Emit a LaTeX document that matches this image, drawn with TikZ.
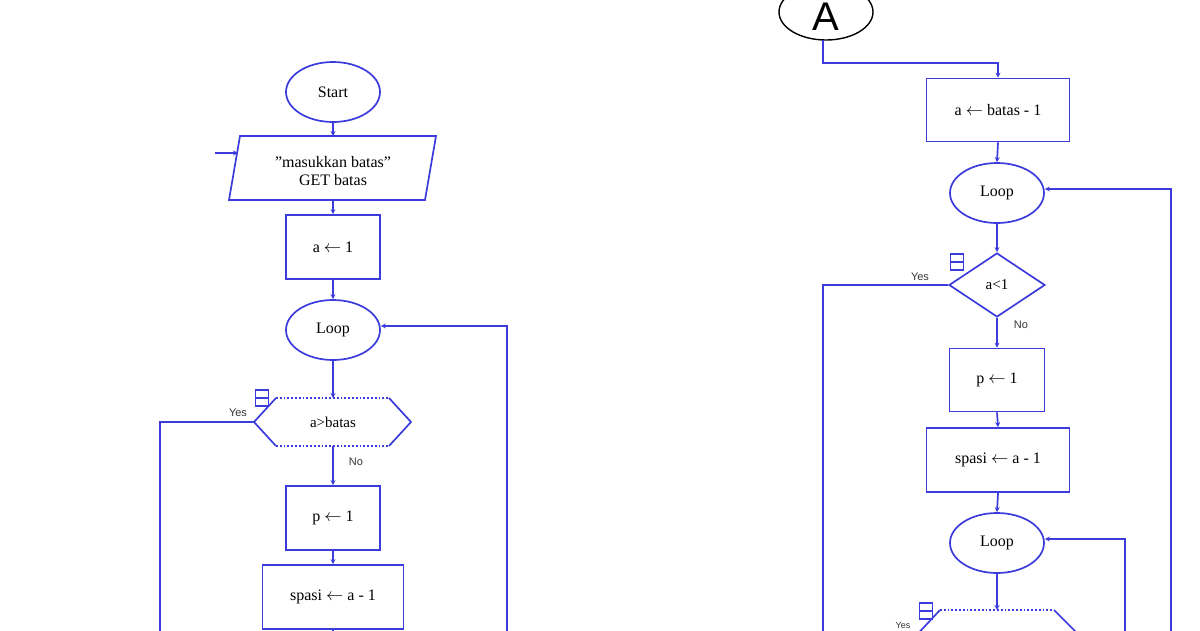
\documentclass[tikz,border=0pt]{standalone}
\usepackage{fontspec}
\setmainfont{Liberation Serif}
\newfontfamily\lab{Liberation Sans}
\usetikzlibrary{shapes.geometric,arrows.meta}
\definecolor{fc}{RGB}{60,60,220}
\begin{document}
\begin{tikzpicture}[x=1pt,y=-1pt,line width=1.7pt,draw=fc,
  arr/.style={-{Stealth[length=5pt,width=5pt]}},
  ell/.style={ellipse,draw=fc,minimum width=94pt,minimum height=60pt,inner sep=0pt,font=\fontsize{16}{18}\selectfont},
  bx/.style={rectangle,draw=fc,minimum height=64pt,font=\fontsize{16}{18}\selectfont},
  lb/.style={font=\lab\fontsize{11}{12}\selectfont,text=black!80},
  icon/.style={draw=fc,minimum width=13pt,minimum height=16pt,inner sep=0pt,path picture={\draw[fc] (path picture bounding box.west)--(path picture bounding box.east);}}]
\useasboundingbox (0,0) rectangle (1200,630);
\clip (0,0) rectangle (1200,630);
% left column
\node[ell] (start) at (333,92) {Start};
\coordinate (p1) at (240,136); \coordinate (p2) at (436,136);
\coordinate (p3) at (425,200); \coordinate (p4) at (229,200);
\draw (p1)--(p2)--(p3)--(p4)--cycle;
\node[align=center,font=\fontsize{16}{18}\selectfont] (in) at (333,171) {\symbol{34}masukkan batas\symbol{34}\\GET batas};
\coordinate (inT) at (333,136); \coordinate (inB) at (333,200);
\coordinate (ent) at (215,153); \coordinate (entE) at (238,153);
\draw[arr] (ent)--(entE);
\draw[arr] (start.south)--(inT);
\node[bx,minimum width=94pt] (a1) at (333,247) {a $\leftarrow$ 1};
\draw[arr] (inB)--(a1.north);
\node[ell] (loop1) at (333,330) {Loop};
\draw[arr] (a1.south)--(loop1.north);
\coordinate (hL) at (254,422); \coordinate (hR) at (411,422);
\coordinate (hTL) at (276,398); \coordinate (hTR) at (389,398);
\coordinate (hBL) at (276,446); \coordinate (hBR) at (389,446);
\draw (hTL)--(hL)--(hBL); \draw (hTR)--(hR)--(hBR);
\draw[dotted,line width=1.8pt] (hTL)--(hTR); \draw[dotted,line width=1.8pt] (hBL)--(hBR);
\node[font=\fontsize{15}{17}\selectfont] (c1) at (333,422) {a>batas};
\coordinate (hT) at (333,398); \coordinate (hB) at (333,446);
\draw[arr] (loop1.south)--(hT);
\node[icon] (ic1) at (262,398) {};
\node[lb] (yes1) at (238,413) {Yes};
\node[lb] (no1) at (356,462) {No};
\node[bx,minimum width=94pt] (p1b) at (333,518) {p $\leftarrow$ 1};
\draw[arr] (hB)--(p1b.north);
\node[bx,minimum width=141pt] (s1) at (333,597) {spasi $\leftarrow$ a - 1};
\draw[arr] (p1b.south)--(s1.north);
\coordinate (s1d) at (333,640); \draw (s1.south)--(s1d);
\coordinate (y1a) at (160,422); \coordinate (y1b) at (160,640);
\draw (hL)--(y1a)--(y1b);
\coordinate (f1a) at (507,640); \coordinate (f1b) at (507,326);
\draw[arr] (f1a)--(f1b)--(loop1.east|-f1b);
% right column
\node[ellipse,draw=black,line width=1.4pt,minimum width=94pt,minimum height=56pt,inner sep=0pt] (A) at (826,12) {};
\node[font=\lab\fontsize{40}{40}\selectfont,anchor=base] (At) at (826,30) {A};
\node[bx,minimum width=143pt,minimum height=63pt] (ab) at (998,110) {a $\leftarrow$ batas - 1};
\coordinate (k1) at (823,63); \coordinate (k2) at (998,63);
\coordinate (k0) at (823,40);
\draw[arr] (k0)--(k1)--(k2)--(ab.north);
\node[ell] (loop2) at (997,193) {Loop};
\draw[arr] (ab.south)--(loop2.north);
\node[diamond,draw=fc,minimum width=96pt,minimum height=64pt,inner sep=0pt,aspect=1.5,font=\fontsize{15}{17}\selectfont] (d2) at (997,285) {a<1};
\draw[arr] (loop2.south)--(d2.north);
\node[icon] (ic2) at (957,262) {};
\node[lb] (yes2) at (920,277) {Yes};
\node[lb] (no2) at (1021,325) {No};
\node[bx,minimum width=95pt,minimum height=63pt] (p2b) at (997,380) {p $\leftarrow$ 1};
\draw[arr] (d2.south)--(p2b.north);
\node[bx,minimum width=143pt] (s2) at (998,460) {spasi $\leftarrow$ a - 1};
\draw[arr] (p2b.south)--(s2.north);
\node[ell] (loop3) at (997,543) {Loop};
\draw[arr] (s2.south)--(loop3.north);
\coordinate (h2T) at (997,610);
\draw[arr] (loop3.south)--(h2T);
\coordinate (h2TL) at (940,610); \coordinate (h2TR) at (1054,610);
\coordinate (h2L) at (912,640); \coordinate (h2R) at (1084,640);
\draw[dotted,line width=1.8pt] (h2TL)--(h2TR); \draw (h2TL)--(h2L); \draw (h2TR)--(h2R);
\node[icon] (ic3) at (926,611) {};
\node[lb,font=\lab\fontsize{9}{10}\selectfont] (yes3) at (903,625) {Yes};
\coordinate (y2a) at (823,285); \coordinate (y2b) at (823,640);
\draw (d2.west)--(y2a)--(y2b);
\coordinate (f2a) at (1125,640); \coordinate (f2b) at (1125,539);
\draw[arr] (f2a)--(f2b)--(loop3.east|-f2b);
\coordinate (f3a) at (1171,640); \coordinate (f3b) at (1171,189);
\draw[arr] (f3a)--(f3b)--(loop2.east|-f3b);
\end{tikzpicture}
\end{document}
